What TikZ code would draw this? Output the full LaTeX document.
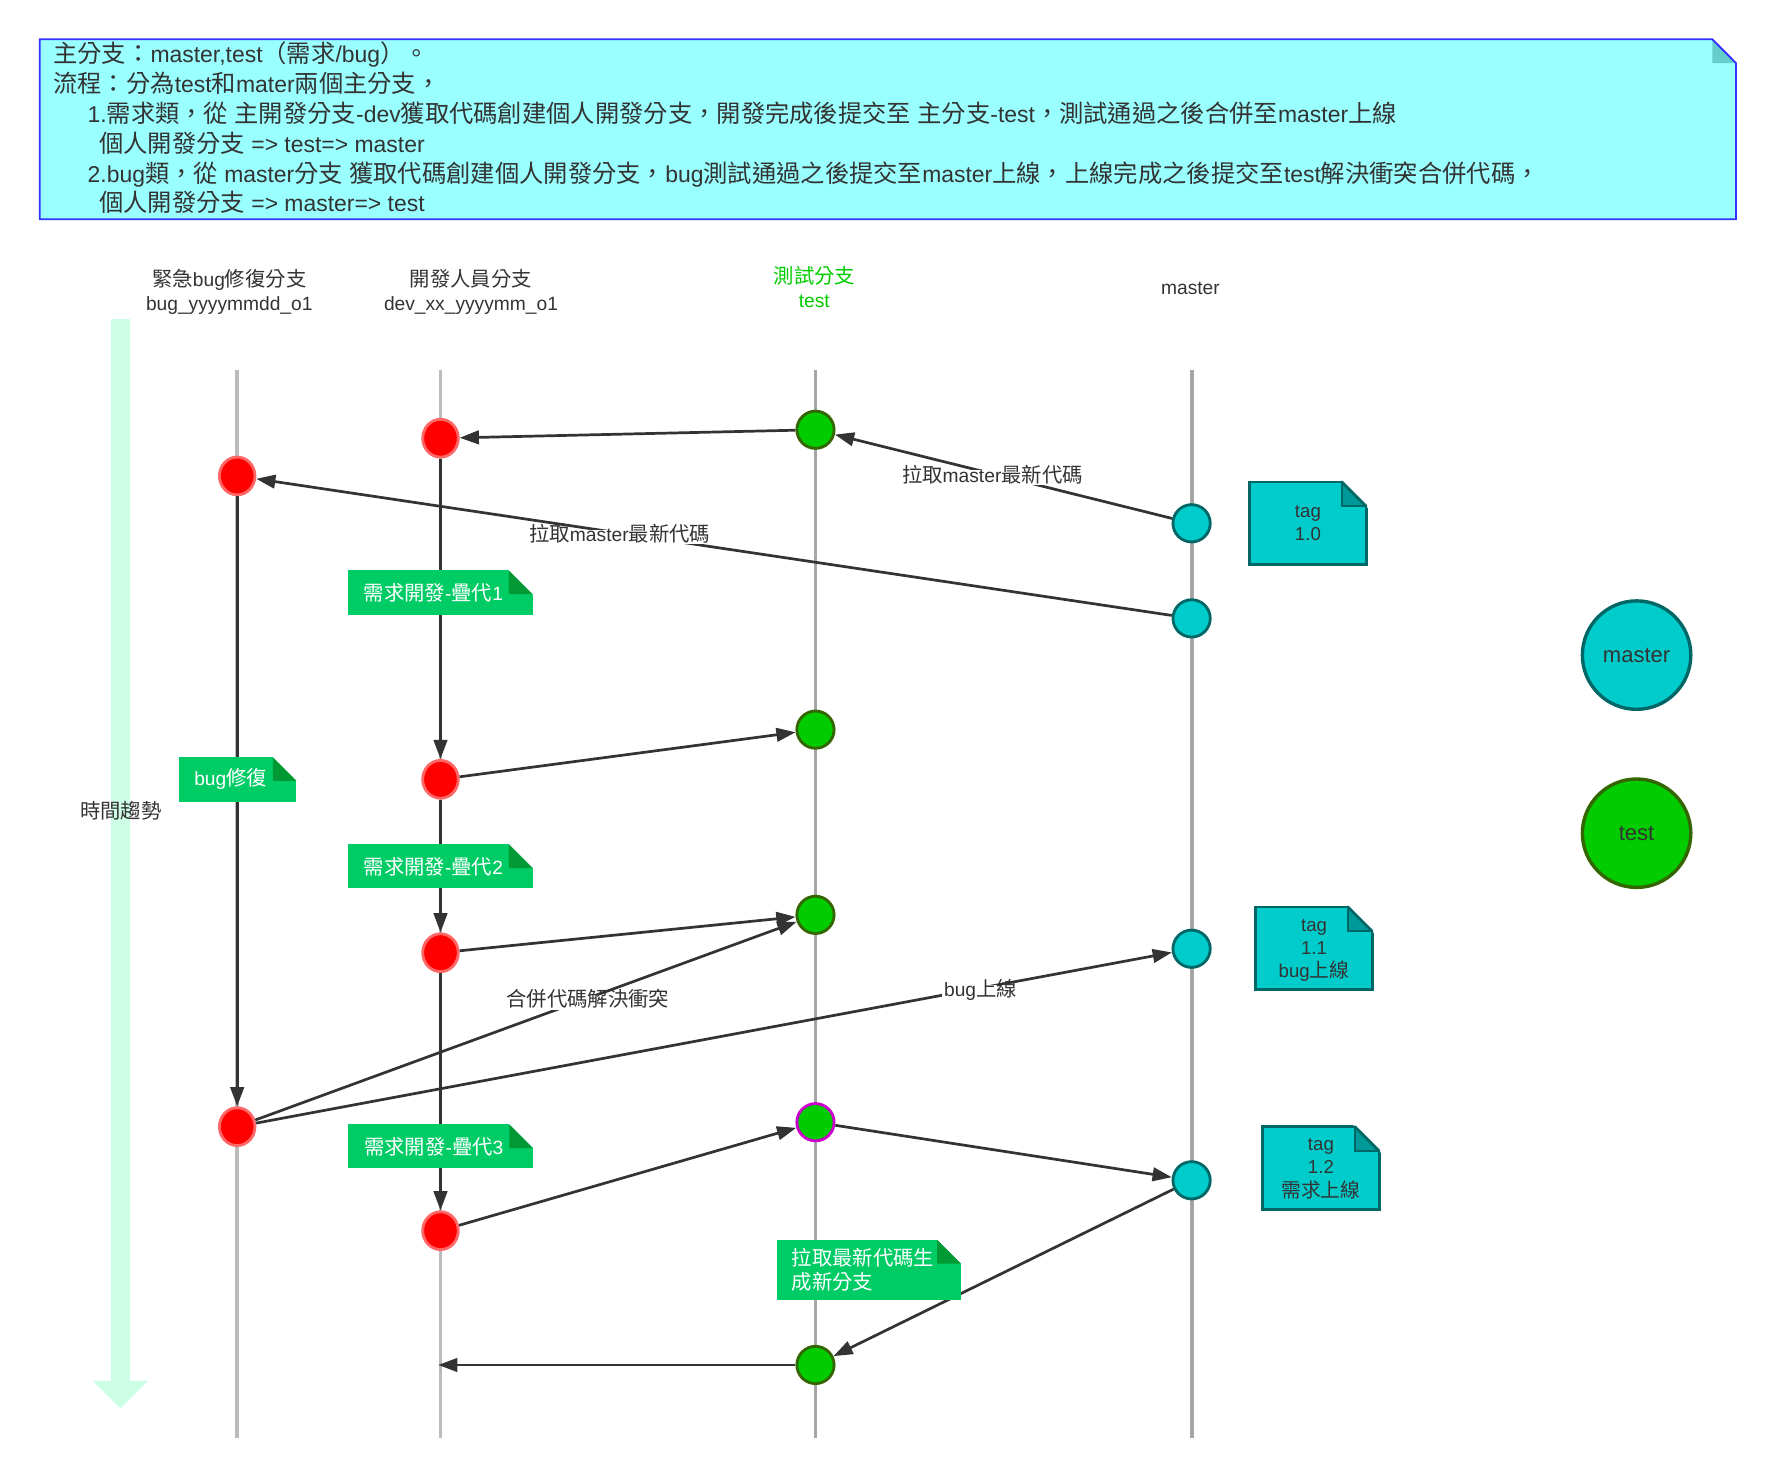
\documentclass[tikz,border=0pt]{standalone}
\usepackage{fontspec}
\setmainfont{Liberation Sans}
\newfontfamily\zhfont[Scale=1.06]{Noto Sans CJK TC}
\newcommand\zh[1]{{\zhfont #1}}
\usetikzlibrary{arrows.meta,calc,shapes.geometric}
\definecolor{txt}{HTML}{333333}
\definecolor{hdfill}{HTML}{99FFFF}
\definecolor{hdline}{HTML}{3333FF}
\definecolor{hdfold}{HTML}{66CCCC}
\definecolor{ngreen}{HTML}{00CC66}
\definecolor{nfold}{HTML}{009933}
\definecolor{tagfill}{HTML}{00CCCC}
\definecolor{tagline}{HTML}{006666}
\definecolor{tagfold}{HTML}{009999}
\definecolor{redfill}{HTML}{FF0000}
\definecolor{redline}{HTML}{FF6666}
\definecolor{grfill}{HTML}{00CC00}
\definecolor{grline}{HTML}{336600}
\definecolor{mag}{HTML}{CC00CC}
\definecolor{lanelt}{HTML}{BBBBBB}
\definecolor{lanedk}{HTML}{A6A6A6}
\definecolor{timebar}{HTML}{CCFFE6}
\definecolor{testgreen}{HTML}{00CC00}
% folded corner: #1 node, #2 size, #3 fold fill, #4 diagonal opts, #5 inner edge opts
\newcommand\dogear[5]{%
  \fill[white] ($(#1.north east)+(-#2-4,-4)$) -- ($(#1.north east)+(4,-4)$) -- ($(#1.north east)+(4,#2+4)$) -- cycle;
  \fill[#3] ($(#1.north east)+(-#2,0)$) -- ($(#1.north east)+(-#2,#2)$) -- ($(#1.north east)+(0,#2)$) -- cycle;
  \path[#5] ($(#1.north east)+(-#2,0)$) -- ($(#1.north east)+(-#2,#2)$) -- ($(#1.north east)+(0,#2)$);
  \path[#4,line cap=round] ($(#1.north east)+(-#2,0)$) -- ($(#1.north east)+(0,#2)$);
}
\tikzset{
  mixtext/.style={text height=9pt, text depth=1pt, yshift=-3.6pt},
  lattext/.style={text height=7.3pt, text depth=2.1pt, yshift=-4.3pt},
  hdtxt/.style={anchor=west, font=\fontsize{20.3}{24}\selectfont, mixtext, inner sep=0pt, text=txt},
  colhd/.style={font=\fontsize{17}{20}\selectfont, inner sep=0pt, text=txt},
  lbl/.style={fill=white, inner sep=1.5pt, font=\fontsize{17}{20}\selectfont, mixtext, text=txt},
  redn/.style={ellipse, minimum width=31.5pt, minimum height=33.5pt, fill=redfill, draw=redline, line width=2.5pt, inner sep=0pt},
  grn/.style={circle, minimum size=33pt, fill=grfill, draw=grline, line width=2.5pt, inner sep=0pt},
  cyn/.style={circle, minimum size=33pt, fill=tagfill, draw=tagline, line width=2.5pt, inner sep=0pt},
  arr/.style={draw=txt, line width=2.4pt, -{Triangle[length=17pt,width=12pt]}},
  gnote/.style={fill=ngreen, text=white, font=\fontsize{17}{21.5}\selectfont, align=left, inner ysep=0pt, outer sep=0pt},
  tagn/.style={fill=tagfill, draw=tagline, line width=2.5pt, text=txt, font=\fontsize{16.5}{20.5}\selectfont, align=center, minimum width=103pt, minimum height=73pt, inner sep=0pt, outer sep=0pt},
  legend/.style={circle, minimum size=96pt, line width=3pt, inner sep=0pt, text=txt, font=\fontsize{19.5}{22}\selectfont, text height=13pt, text depth=0pt}
}
\begin{document}
\begin{tikzpicture}[x=1pt,y=-1pt]
\useasboundingbox (0,0) rectangle (1568,1306);
% ---------- header note ----------
\filldraw[fill=hdfill, draw=hdline, line width=1.5pt] (35.2,34.8) -- (1516,34.8) -- (1537,56) -- (1537,194.2) -- (35.2,194.2) -- cycle;
\fill[hdfold] (1516,34.8) -- (1516,56) -- (1537,56) -- cycle;
\draw[hdline, line width=1.5pt, line cap=round] (1516,34.8) -- (1537,56);
\node[hdtxt] (hd1) at (47,48) {\zh{主分支：}master,test\zh{（需求}/bug\zh{）。}};
\node[hdtxt] (hd2) at (47,74.4) {\zh{流程：分為}test\zh{和}mater\zh{兩個主分支，}};
\node[hdtxt] (hd3) at (77.4,100.8) {1.\zh{需求類，從} \zh{主開發分支}-dev\zh{獲取代碼創建個人開發分支，開發完成後提交至} \zh{主分支}-test\zh{，測試通過之後合併至}master\zh{上線}};
\node[hdtxt] (hd4) at (87.6,127.2) {\zh{個人開發分支} => test=> master};
\node[hdtxt] (hd5) at (77.4,153.6) {2.bug\zh{類，從} master\zh{分支} \zh{獲取代碼創建個人開發分支，}bug\zh{測試通過之後提交至}master\zh{上線，上線完成之後提交至}test\zh{解決衝突合併代碼，}};
\node[hdtxt] (hd6) at (87.6,180) {\zh{個人開發分支} => master=> test};
% ---------- column headers ----------
\node[colhd, mixtext] (hB1) at (203,246) {\zh{緊急}bug\zh{修復分支}};
\node[colhd, lattext] (hB2) at (203,268) {bug\_yyyymmdd\_o1};
\node[colhd, mixtext] (hD1) at (417,246) {\zh{開發人員分支}};
\node[colhd, lattext] (hD2) at (417,268) {dev\_xx\_yyyymm\_o1};
\node[colhd, mixtext, text=testgreen] (hT1) at (721,243) {\zh{測試分支}};
\node[colhd, lattext, text=testgreen] (hT2) at (721,265) {test};
\node[colhd, lattext] (hM) at (1054,254) {master};
% ---------- time arrow ----------
\fill[timebar] (98.3,282) rectangle (114.8,1223);
\fill[timebar] (82,1222.5) -- (131,1222.5) -- (106.5,1247) -- cycle;
\node[font=\fontsize{17}{20}\selectfont, mixtext, inner sep=0pt, text=txt] (timelbl) at (107,717) {\zh{時間趨勢}};
% ---------- lanes ----------
\coordinate (bugTop) at (210,328);  \coordinate (bugBot) at (210,1273);
\coordinate (devTop) at (390,328);  \coordinate (devBot) at (390,1273);
\coordinate (tstTop) at (722,328);  \coordinate (tstBot) at (722,1273);
\coordinate (masTop) at (1055,328); \coordinate (masBot) at (1055,1273);
\draw[lanelt, line width=3pt] (bugTop) -- (bugBot);
\draw[lanelt, line width=3pt] (devTop) -- (devBot);
\draw[lanedk, line width=3.5pt] (tstTop) -- (tstBot);
\draw[lanedk, line width=3.5pt] (masTop) -- (masBot);
% ---------- commits ----------
\node[redn] (B1) at (210,421.4) {};
\node[redn] (B2) at (210,997.5) {};
\node[redn] (D1) at (390,388) {};
\node[redn] (D2) at (390,690) {};
\node[redn] (D3) at (390,843.5) {};
\node[redn] (D4) at (390,1089.6) {};
\node[grn] (T1) at (722,380.5) {};
\node[grn] (T2) at (722,646) {};
\node[grn] (T3) at (722,810) {};
\node[grn, draw=mag] (T4) at (722,993.6) {};
\node[grn] (T5) at (722,1208.5) {};
\node[cyn] (M1) at (1055,463.3) {};
\node[cyn] (M2) at (1055,547.5) {};
\node[cyn] (M3) at (1055,840) {};
\node[cyn] (M4) at (1055,1045) {};
\coordinate (devPull) at (388,1208.5);
% ---------- connectors ----------
\draw[arr] (T1) -- (D1);
\draw[arr] (M1) -- node[lbl, pos=.533] (lb1) {\zh{拉取}master\zh{最新代碼}} (T1);
\draw[arr] (M2) -- node[lbl, pos=.603] (lb2) {\zh{拉取}master\zh{最新代碼}} (B1);
\draw[arr] (D1) -- (D2);
\draw[arr] (D2) -- (T2);
\draw[arr] (D2) -- (D3);
\draw[arr] (D3) -- (T3);
\draw[arr] (B1) -- (B2);
\draw[arr] (B2) -- node[lbl, pos=.614] (lb3) {\zh{合併代碼解決衝突}} (T3);
\draw[arr] (B2) -- node[lbl, pos=.791] (lb4) {bug\zh{上線}} (M3);
\draw[arr] (D3) -- (D4);
\draw[arr] (D4) -- (T4);
\draw[arr] (T4) -- (M4);
\draw[arr] (M4) -- (T5);
\draw[arr] (T5) -- (devPull);
% ---------- green notes ----------
\node[gnote, text width=135.5pt, inner xsep=14pt, minimum height=39pt] (n1) at (389.8,524.6) {\zh{需求開發}-\zh{疊代}1};
\dogear{n1}{21}{nfold}{draw=none}{draw=none}
\node[gnote, text width=135.5pt, inner xsep=14pt, minimum height=39pt] (n2) at (389.8,767) {\zh{需求開發}-\zh{疊代}2};
\dogear{n2}{21}{nfold}{draw=none}{draw=none}
\node[gnote, text width=135.5pt, inner xsep=14pt, minimum height=39pt] (n3) at (390.2,1015) {\zh{需求開發}-\zh{疊代}3};
\dogear{n3}{21}{nfold}{draw=none}{draw=none}
\node[gnote, text width=77pt, inner xsep=13.5pt, minimum height=39.5pt] (nb) at (210.5,690) {bug\zh{修復}};
\dogear{nb}{21}{nfold}{draw=none}{draw=none}
\node[gnote, text width=136.8pt, inner xsep=13pt, minimum height=53pt] (nt) at (769.4,1124.2) {\zh{拉取最新代碼生}\\\zh{成新分支}};
\dogear{nt}{21}{nfold}{draw=none}{draw=none}
% ---------- tags ----------
\node[tagn, text depth=-5.5pt] (tag10) at (1158,463.2) {tag\\1.0};
\dogear{tag10}{21.5}{tagfold}{draw=tagline,line width=2.5pt}{draw=tagline,line width=2pt}
\node[tagn, text depth=-2pt] (tag11) at (1163.4,839.5) {tag\\1.1\\bug\zh{上線}};
\dogear{tag11}{21.5}{tagfold}{draw=tagline,line width=2.5pt}{draw=tagline,line width=2pt}
\node[tagn, text depth=-3.4pt] (tag12) at (1169.5,1034) {tag\\1.2\\\zh{需求上線}};
\dogear{tag12}{21.5}{tagfold}{draw=tagline,line width=2.5pt}{draw=tagline,line width=2pt}
% ---------- legend ----------
\node[legend, fill=tagfill, draw=tagline] (legM) at (1449,580) {master};
\node[legend, fill=grfill, draw=grline] (legT) at (1449,737.7) {test};
\end{tikzpicture}
\end{document}
